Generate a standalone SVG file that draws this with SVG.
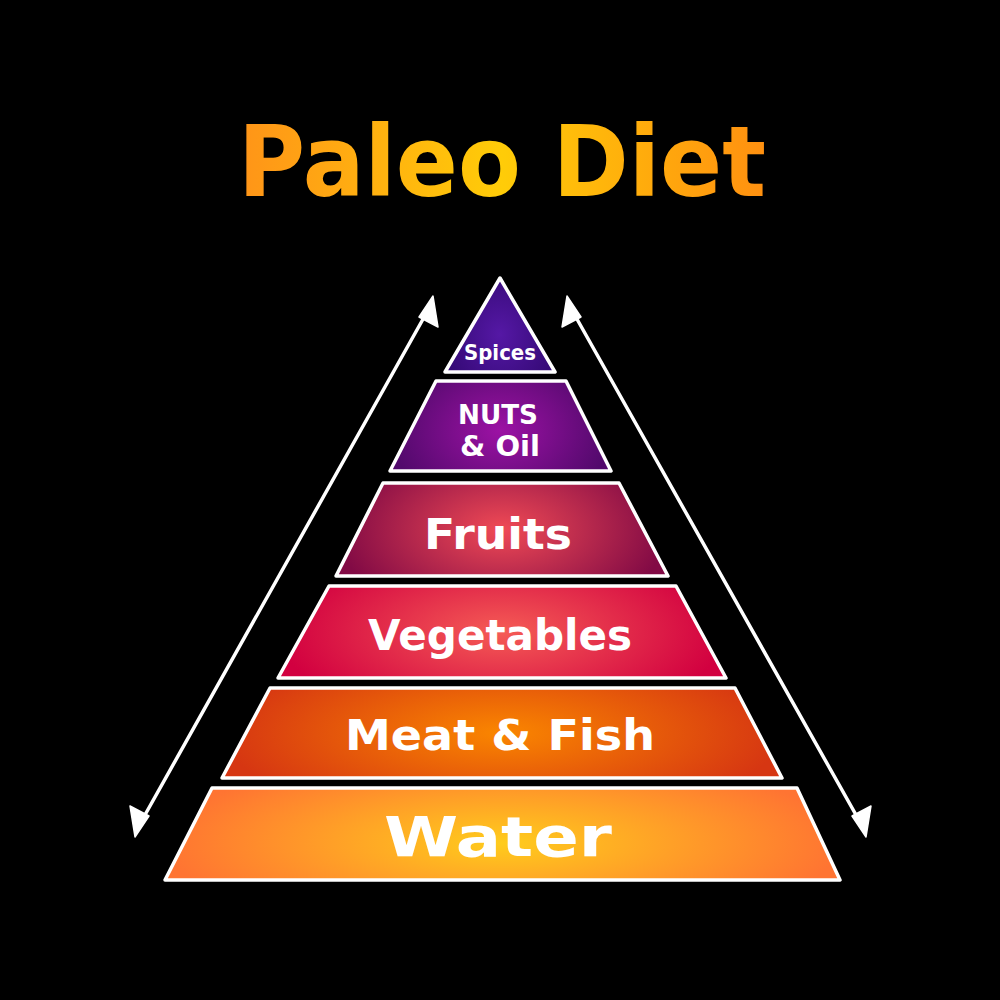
<svg xmlns="http://www.w3.org/2000/svg" width="1000" height="1000" viewBox="0 0 1000 1000">
  <defs>
    <linearGradient id="gTitle" x1="0" y1="0" x2="1" y2="0">
      <stop offset="0" stop-color="#ff9418"/>
      <stop offset="0.5" stop-color="#ffcc08"/>
      <stop offset="1" stop-color="#ff9010"/>
    </linearGradient>
    <radialGradient id="gSpices" cx="0.5" cy="0.6" r="0.5" gradientTransform="translate(0.5,0.6) scale(1,1.4) translate(-0.5,-0.6)">
      <stop offset="0" stop-color="#5518a5"/>
      <stop offset="1" stop-color="#360a78"/>
    </radialGradient>
    <radialGradient id="gNuts" cx="0.5" cy="0.55" r="0.5" gradientTransform="translate(0.5,0.55) scale(1,1.8) translate(-0.5,-0.55)">
      <stop offset="0" stop-color="#9c12a4"/>
      <stop offset="1" stop-color="#52096c"/>
    </radialGradient>
    <radialGradient id="gFruits" cx="0.5" cy="0.5" r="0.5" gradientTransform="translate(0.5,0.5) scale(1,2) translate(-0.5,-0.5)">
      <stop offset="0" stop-color="#f04a55"/>
      <stop offset="1" stop-color="#820a45"/>
    </radialGradient>
    <radialGradient id="gVeg" cx="0.5" cy="0.5" r="0.5" gradientTransform="translate(0.5,0.5) scale(1,2) translate(-0.5,-0.5)">
      <stop offset="0" stop-color="#f55c55"/>
      <stop offset="1" stop-color="#d20040"/>
    </radialGradient>
    <radialGradient id="gMeat" cx="0.5" cy="0.5" r="0.5" gradientTransform="translate(0.5,0.5) scale(1,2) translate(-0.5,-0.5)">
      <stop offset="0" stop-color="#fa8600"/>
      <stop offset="1" stop-color="#d63612"/>
    </radialGradient>
    <radialGradient id="gWater" cx="0.5" cy="0.6" r="0.5" gradientTransform="translate(0.5,0.6) scale(1,2) translate(-0.5,-0.6)">
      <stop offset="0" stop-color="#ffcc1c"/>
      <stop offset="1" stop-color="#ff7432"/>
    </radialGradient>
  </defs>
  <style>
    .layer { stroke: #ffffff; stroke-width: 3.5; stroke-linejoin: round; }
    .lbl { font-family: "DejaVu Sans", "Liberation Sans", sans-serif; font-weight: bold; fill: #ffffff; text-anchor: middle; }
    .conn { stroke: #ffffff; stroke-width: 3.5; fill: none; stroke-linecap: round; }
    .head { fill: #ffffff; stroke: #ffffff; stroke-width: 1.5; stroke-linejoin: round; }
  </style>
  <rect x="0" y="0" width="1000" height="1000" fill="#000000"/>

  <g id="title">
    <text x="502" y="196" font-family="DejaVu Sans, Liberation Sans, sans-serif" font-weight="bold" font-size="98" fill="url(#gTitle)" text-anchor="middle" textLength="528" lengthAdjust="spacingAndGlyphs">Paleo Diet</text>
  </g>

  <g id="connectors">
    <g id="arrow-left">
      <line class="conn" x1="427" y1="312" x2="141" y2="822"/>
      <polygon class="head" points="433,296 438,327 419,317"/>
      <polygon class="head" points="135,837 130,806 149,816"/>
    </g>
    <g id="arrow-right">
      <line class="conn" x1="573" y1="312" x2="860" y2="822"/>
      <polygon class="head" points="567,296 581,317 562,327"/>
      <polygon class="head" points="866,837 852,816 871,806"/>
    </g>
  </g>

  <g id="layer-spices">
    <polygon class="layer" fill="url(#gSpices)" points="500,278 555,372 445,372"/>
    <text class="lbl" x="500" y="360" font-size="22" textLength="72" lengthAdjust="spacingAndGlyphs">Spices</text>
  </g>
  <g id="layer-nuts">
    <polygon class="layer" fill="url(#gNuts)" points="436,381 566,381 611,471 390,471"/>
    <text class="lbl" x="498" y="424" font-size="27" textLength="80" lengthAdjust="spacingAndGlyphs">NUTS</text>
    <text class="lbl" x="500" y="456" font-size="28" textLength="80" lengthAdjust="spacingAndGlyphs">&amp; Oil</text>
  </g>
  <g id="layer-fruits">
    <polygon class="layer" fill="url(#gFruits)" points="383,483 619,483 668,576 336,576"/>
    <text class="lbl" x="498" y="549" font-size="42" textLength="148" lengthAdjust="spacingAndGlyphs">Fruits</text>
  </g>
  <g id="layer-vegetables">
    <polygon class="layer" fill="url(#gVeg)" points="329,586 676,586 726,678 278,678"/>
    <text class="lbl" x="500" y="650" font-size="42" textLength="264" lengthAdjust="spacingAndGlyphs">Vegetables</text>
  </g>
  <g id="layer-meat">
    <polygon class="layer" fill="url(#gMeat)" points="270,688 735,688 782,778 222,778"/>
    <text class="lbl" x="500" y="750" font-size="42" textLength="310" lengthAdjust="spacingAndGlyphs">Meat &amp; Fish</text>
  </g>
  <g id="layer-water">
    <polygon class="layer" fill="url(#gWater)" points="212,788 797,788 840,880 165,880"/>
    <text class="lbl" x="498" y="856" font-size="56" textLength="228" lengthAdjust="spacingAndGlyphs">Water</text>
  </g>
</svg>
